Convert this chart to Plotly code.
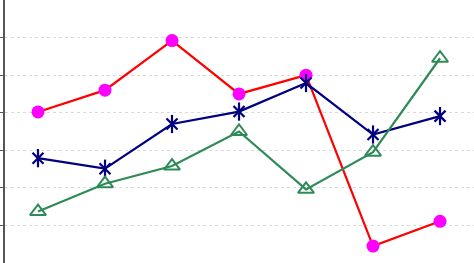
import plotly.graph_objects as go

x = [0, 1, 2, 3, 4, 5, 6]
red_vals = [4.02, 4.60, 5.92, 4.50, 5.00, 0.45, 1.11]
navy_vals = [2.79, 2.51, 3.70, 4.03, 4.79, 3.42, 3.91]
green_vals = [1.37, 2.11, 2.58, 3.50, 1.96, 2.95, 5.45]
grid_vals = [1, 2, 3, 4, 5, 6]

fig = go.Figure()
fig.add_trace(go.Scatter(x=x, y=red_vals, mode="lines+markers",
                         line=dict(color="#ff0000", width=2.2),
                         marker=dict(symbol="circle", size=13, color="#ff00ff",
                                     line=dict(width=0))))
fig.add_trace(go.Scatter(x=x, y=navy_vals, mode="lines+markers",
                         line=dict(color="#000080", width=2.2),
                         marker=dict(symbol="x-thin-open", size=11, color="#000080",
                                     line=dict(width=2.2, color="#000080"))))
fig.add_trace(go.Scatter(x=x, y=navy_vals, mode="markers",
                         marker=dict(symbol="line-ns-open", size=13, color="#000080",
                                     line=dict(width=2.2, color="#000080"))))
fig.add_trace(go.Scatter(x=x, y=green_vals, mode="lines+markers",
                         line=dict(color="#2e8b57", width=2.2),
                         marker=dict(symbol="triangle-up-open", size=14, color="#2e8b57",
                                     line=dict(width=2, color="#2e8b57"))))

fig.update_layout(
    width=474, height=263,
    margin=dict(l=5, r=0, t=0, b=0),
    paper_bgcolor="white", plot_bgcolor="white",
    showlegend=False,
    xaxis=dict(range=[-0.4925, 6.507], showgrid=False, zeroline=False,
               showline=False, showticklabels=False, ticks=""),
    yaxis=dict(range=[0, 7], tickvals=grid_vals, showticklabels=False,
               ticks="outside", ticklen=5, tickcolor="#555", tickwidth=1,
               showline=True, linecolor="#555", linewidth=1.5,
               showgrid=True, gridcolor="#dadada", griddash="dot", gridwidth=1,
               zeroline=False),
)

fig.write_html("out.html")
